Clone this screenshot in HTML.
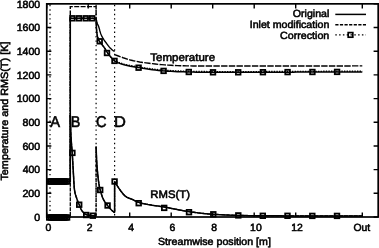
<!DOCTYPE html>
<html><head><meta charset="utf-8"><title>Streamwise temperature</title><style>
html,body{margin:0;padding:0;background:#fff;width:379px;height:248px;overflow:hidden}
svg{display:block}
text{font-family:"Liberation Sans",Arial,Helvetica,sans-serif;font-size:10.4px;fill:#000;stroke:#000;stroke-width:0.55px;text-rendering:geometricPrecision}
</style></head><body>
<svg width="379" height="248" viewBox="0 0 379 248">
<rect x="46.75" y="3.85" width="331.45" height="213.15" fill="none" stroke="#000" stroke-width="1.7"/>
<path d="M46.70,217.0v-4.6M46.70,3.85v4.6M88.20,217.0v-4.6M88.20,3.85v4.6M129.70,217.0v-4.6M129.70,3.85v4.6M171.20,217.0v-4.6M171.20,3.85v4.6M212.70,217.0v-4.6M212.70,3.85v4.6M254.20,217.0v-4.6M254.20,3.85v4.6M295.70,217.0v-4.6M295.70,3.85v4.6M362.30,217.0v-4.6M362.30,3.85v4.6M46.75,217.00h4.6M378.2,217.00h-4.6M46.75,193.32h4.6M378.2,193.32h-4.6M46.75,169.63h4.6M378.2,169.63h-4.6M46.75,145.95h4.6M378.2,145.95h-4.6M46.75,122.27h4.6M378.2,122.27h-4.6M46.75,98.58h4.6M378.2,98.58h-4.6M46.75,74.90h4.6M378.2,74.90h-4.6M46.75,51.22h4.6M378.2,51.22h-4.6M46.75,27.53h4.6M378.2,27.53h-4.6M46.75,3.85h4.6M378.2,3.85h-4.6" stroke="#000" stroke-width="1.4" fill="none"/>
<text x="45.56" y="231.40">0</text>
<text x="86.81" y="231.40">2</text>
<text x="128.34" y="231.40">4</text>
<text x="169.47" y="231.40">6</text>
<text x="211.21" y="231.40">8</text>
<text x="250.12" y="231.40">10</text>
<text x="291.28" y="231.40">12</text>
<text x="353.41" y="231.40">Out</text>
<text x="34.26" y="220.75" textLength="5.93" lengthAdjust="spacingAndGlyphs">0</text>
<text x="22.44" y="197.07" textLength="17.75" lengthAdjust="spacingAndGlyphs">200</text>
<text x="22.73" y="173.38" textLength="17.45" lengthAdjust="spacingAndGlyphs">400</text>
<text x="22.43" y="149.70" textLength="17.76" lengthAdjust="spacingAndGlyphs">600</text>
<text x="22.51" y="126.02" textLength="17.67" lengthAdjust="spacingAndGlyphs">800</text>
<text x="16.67" y="102.33" textLength="23.52" lengthAdjust="spacingAndGlyphs">1000</text>
<text x="16.67" y="78.65" textLength="23.52" lengthAdjust="spacingAndGlyphs">1200</text>
<text x="16.67" y="54.97" textLength="23.52" lengthAdjust="spacingAndGlyphs">1400</text>
<text x="16.67" y="31.28" textLength="23.52" lengthAdjust="spacingAndGlyphs">1600</text>
<text x="16.67" y="7.60" textLength="23.52" lengthAdjust="spacingAndGlyphs">1800</text>
<text x="157.99" y="245.40" textLength="112.89" lengthAdjust="spacingAndGlyphs">Streamwise position [m]</text>
<text transform="rotate(-90)" x="-180.57" y="8.00" textLength="138.96" lengthAdjust="spacingAndGlyphs">Temperature and RMS(T) [K]</text>
<line x1="50.0" y1="4.85" x2="50.0" y2="216.0" stroke="#000" stroke-width="1.2" stroke-dasharray="1.4 3.05"/>
<line x1="96.1" y1="4.85" x2="96.1" y2="216.0" stroke="#000" stroke-width="1.2" stroke-dasharray="1.4 3.05"/>
<line x1="114.6" y1="4.85" x2="114.6" y2="216.0" stroke="#000" stroke-width="1.2" stroke-dasharray="1.4 3.05"/>
<polyline points="46.75,181.50 70.30,181.50 70.30,18.30 96.10,18.30 96.41,28.16 96.73,31.49 97.04,34.02 97.35,36.02 97.67,37.54 97.98,38.51 98.29,39.27 98.61,39.89 98.92,40.43 99.24,40.90 99.55,41.37 99.86,41.85 100.18,42.30 100.49,42.73 100.80,43.13 101.12,43.52 101.43,43.90 101.74,44.27 102.06,44.65 102.37,45.04 102.68,45.45 103.00,45.87 103.31,46.29 103.63,46.72 103.94,47.16 104.25,47.60 104.57,48.05 104.88,48.52 105.19,48.99 105.51,49.49 105.82,50.02 106.13,50.56 106.45,51.11 106.76,51.65 107.07,52.16 107.39,52.63 107.70,53.08 108.02,53.52 108.33,53.94 108.64,54.36 108.96,54.76 109.27,55.16 109.58,55.55 109.90,55.93 110.21,56.31 110.52,56.68 110.84,57.04 111.15,57.40 111.46,57.76 111.78,58.11 112.09,58.45 112.41,58.79 112.72,59.13 113.03,59.46 113.35,59.78 113.66,60.09 113.97,60.40 114.29,60.70 114.60,61.00 117.74,62.66 120.87,63.90 124.01,64.81 127.14,65.56 130.28,66.18 133.41,66.77 136.55,67.35 139.68,67.88 142.82,68.36 145.95,68.82 149.09,69.25 152.23,69.66 155.36,70.06 158.50,70.43 161.63,70.75 164.77,70.98 167.90,71.17 171.04,71.34 174.17,71.50 177.31,71.64 180.44,71.77 183.58,71.87 186.72,71.96 189.85,72.02 192.99,72.08 196.12,72.13 199.26,72.18 202.39,72.23 205.53,72.26 208.66,72.29 211.80,72.30 214.93,72.30 218.07,72.30 221.21,72.30 224.34,72.30 227.48,72.30 230.61,72.30 233.75,72.30 236.88,72.30 240.02,72.30 243.15,72.30 246.29,72.30 249.42,72.30 252.56,72.30 255.69,72.29 258.83,72.29 261.97,72.28 265.10,72.27 268.24,72.25 271.37,72.24 274.51,72.22 277.64,72.21 280.78,72.19 283.91,72.18 287.05,72.16 290.18,72.14 293.32,72.13 296.46,72.11 299.59,72.10 302.73,72.09 305.86,72.08 309.00,72.07 312.13,72.06 315.27,72.05 318.40,72.04 321.54,72.03 324.67,72.01 327.81,72.00 330.95,71.99 334.08,71.98 337.22,71.97 340.35,71.96 343.49,71.95 346.62,71.95 349.76,71.94 352.89,71.93 356.03,71.92 359.16,71.91 362.30,71.90" fill="none" stroke="#000" stroke-width="1.5" stroke-linejoin="miter"/>
<polyline points="46.75,217.00 70.30,217.00" fill="none" stroke="#000" stroke-width="1.5" stroke-linejoin="bevel"/>
<polyline points="70.30,115.00 70.74,131.54 71.17,139.60 71.61,145.49 72.05,150.64 72.49,157.29 72.92,165.01 73.36,172.59 73.80,180.72 74.24,187.50 74.67,191.04 75.11,193.22 75.55,194.89 75.98,196.24 76.42,197.48 76.86,198.78 77.30,200.02 77.73,201.18 78.17,202.26 78.61,203.31 79.05,204.34 79.48,205.38 79.92,206.46 80.36,207.54 80.79,208.57 81.23,209.50 81.67,210.31 82.11,210.94 82.54,211.50 82.98,212.03 83.42,212.53 83.86,212.99 84.29,213.41 84.73,213.79 85.17,214.10 85.61,214.36 86.04,214.55 86.48,214.68 86.92,214.80 87.35,214.90 87.79,215.00 88.23,215.09 88.67,215.17 89.10,215.24 89.54,215.31 89.98,215.37 90.42,215.43 90.85,215.48 91.29,215.53 91.73,215.58 92.16,215.63 92.60,215.68 93.04,215.73 93.48,215.77 93.91,215.82 94.35,215.86 94.79,215.90 95.23,215.94 95.66,215.97 96.10,216.00" fill="none" stroke="#000" stroke-width="1.5" stroke-linejoin="bevel"/>
<polyline points="96.10,146.50 96.57,159.51 97.05,166.86 97.52,172.25 98.00,176.96 98.47,180.92 98.95,184.02 99.42,186.60 99.89,188.78 100.37,190.63 100.84,192.32 101.32,193.89 101.79,195.33 102.27,196.65 102.74,197.85 103.22,198.92 103.69,199.87 104.16,200.72 104.64,201.50 105.11,202.22 105.59,202.89 106.06,203.53 106.54,204.14 107.01,204.74 107.48,205.35 107.96,205.96 108.43,206.57 108.91,207.16 109.38,207.73 109.86,208.28 110.33,208.80 110.81,209.30 111.28,209.78 111.75,210.23 112.23,210.67 112.70,211.10 113.18,211.50 113.65,211.89 114.13,212.26 114.60,212.60 114.60,181.50 116.68,184.79 118.76,188.14 120.84,191.05 122.93,193.76 125.01,195.98 127.09,197.35 129.17,198.22 131.25,198.99 133.33,199.93 135.42,201.00 137.50,201.97 139.58,202.66 141.66,203.20 143.74,203.67 145.82,204.08 147.90,204.46 149.99,204.82 152.07,205.18 154.15,205.51 156.23,205.82 158.31,206.11 160.39,206.41 162.47,206.72 164.56,207.06 166.64,207.44 168.72,207.85 170.80,208.27 172.88,208.69 174.96,209.10 177.05,209.50 179.13,209.89 181.21,210.28 183.29,210.67 185.37,211.03 187.45,211.37 189.53,211.67 191.62,211.96 193.70,212.24 195.78,212.52 197.86,212.79 199.94,213.04 202.02,213.28 204.11,213.51 206.19,213.72 208.27,213.92 210.35,214.09 212.43,214.24 214.51,214.38 216.59,214.50 218.68,214.62 220.76,214.73 222.84,214.83 224.92,214.93 227.00,215.02 229.08,215.11 231.16,215.18 233.25,215.26 235.33,215.32 237.41,215.38 239.49,215.43 241.57,215.47 243.65,215.52 245.74,215.56 247.82,215.61 249.90,215.65 251.98,215.68 254.06,215.71 256.14,215.74 258.22,215.76 260.31,215.78 262.39,215.80 264.47,215.81 266.55,215.82 268.63,215.83 270.71,215.84 272.79,215.84 274.88,215.85 276.96,215.86 279.04,215.87 281.12,215.87 283.20,215.88 285.28,215.88 287.37,215.89 289.45,215.89 291.53,215.89 293.61,215.90 295.69,215.90 297.77,215.90 299.85,215.90 301.94,215.90 304.02,215.90 306.10,215.90 308.18,215.90 310.26,215.90 312.34,215.90 314.43,215.90 316.51,215.90 318.59,215.90 320.67,215.90 322.75,215.90 324.83,215.90 326.91,215.90 329.00,215.90 331.08,215.90 333.16,215.90 335.24,215.90 337.32,215.90 339.40,215.90 341.48,215.90 343.57,215.90 345.65,215.90 347.73,215.90 349.81,215.90 351.89,215.90 353.97,215.90 356.06,215.90 358.14,215.90 360.22,215.90 362.30,215.90" fill="none" stroke="#000" stroke-width="1.5" stroke-linejoin="bevel"/>
<polyline points="46.75,181.50 70.30,181.50 70.30,6.60 96.10,6.60 96.10,18.30" fill="none" stroke="#000" stroke-width="1.4" stroke-dasharray="5 1.4" stroke-dashoffset="2.45"/>
<polyline points="96.10,18.30 96.57,21.02 97.05,22.82 97.52,24.06 98.00,25.08 98.47,26.13 98.95,27.45 99.42,29.16 99.89,30.98 100.37,32.62 100.84,33.90 101.32,35.04 101.79,36.08 102.27,37.02 102.74,37.90 103.22,38.71 103.69,39.47 104.16,40.19 104.64,40.87 105.11,41.52 105.59,42.16 106.06,42.79 106.54,43.41 107.01,44.05 107.48,44.68 107.96,45.31 108.43,45.93 108.91,46.53 109.38,47.10 109.86,47.64 110.33,48.13 110.81,48.59 111.28,49.03 111.75,49.45 112.23,49.85 112.70,50.23 113.18,50.59 113.65,50.92 114.13,51.22 114.60,51.50" fill="none" stroke="#000" stroke-width="1.4"/>
<polyline points="114.60,54.60 117.74,55.77 120.87,56.92 124.01,58.04 127.14,59.05 130.28,59.96 133.41,60.72 136.55,61.38 139.68,61.95 142.82,62.44 145.95,62.89 149.09,63.29 152.23,63.66 155.36,64.02 158.50,64.35 161.63,64.64 164.77,64.89 167.90,65.11 171.04,65.31 174.17,65.47 177.31,65.59 180.44,65.71 183.58,65.80 186.72,65.87 189.85,65.91 192.99,65.93 196.12,65.95 199.26,65.97 202.39,65.98 205.53,65.99 208.66,66.00 211.80,66.00 214.93,66.00 218.07,66.00 221.21,66.00 224.34,66.00 227.48,66.00 230.61,66.00 233.75,66.00 236.88,66.00 240.02,66.00 243.15,66.00 246.29,66.00 249.42,66.00 252.56,66.00 255.69,66.00 258.83,66.00 261.97,66.00 265.10,66.00 268.24,66.00 271.37,66.00 274.51,66.00 277.64,66.00 280.78,66.00 283.91,66.00 287.05,66.00 290.18,66.00 293.32,66.00 296.46,66.00 299.59,66.00 302.73,66.00 305.86,66.00 309.00,66.00 312.13,65.99 315.27,65.99 318.40,65.99 321.54,65.98 324.67,65.98 327.81,65.98 330.95,65.97 334.08,65.96 337.22,65.96 340.35,65.95 343.49,65.94 346.62,65.94 349.76,65.93 352.89,65.92 356.03,65.92 359.16,65.91 362.30,65.90" fill="none" stroke="#000" stroke-width="1.4" stroke-dasharray="6.4 1.3"/>
<polyline points="46.75,217.00 70.30,217.00 70.30,115.00 70.74,131.54 71.17,139.60 71.61,145.49 72.05,150.64 72.49,157.29 72.92,165.01 73.36,172.59 73.80,180.72 74.24,187.50 74.67,191.04 75.11,193.22 75.55,194.89 75.98,196.24 76.42,197.48 76.86,198.78 77.30,200.02 77.73,201.18 78.17,202.26 78.61,203.31 79.05,204.34 79.48,205.38 79.92,206.46 80.36,207.54 80.79,208.57 81.23,209.50 81.67,210.31 82.11,210.94 82.54,211.50 82.98,212.03 83.42,212.53 83.86,212.99 84.29,213.41 84.73,213.79 85.17,214.10 85.61,214.36 86.04,214.55 86.48,214.68 86.92,214.80 87.35,214.90 87.79,215.00 88.23,215.09 88.67,215.17 89.10,215.24 89.54,215.31 89.98,215.37 90.42,215.43 90.85,215.48 91.29,215.53 91.73,215.58 92.16,215.63 92.60,215.68 93.04,215.73 93.48,215.77 93.91,215.82 94.35,215.86 94.79,215.90 95.23,215.94 95.66,215.97 96.10,216.00 96.10,217.00 96.10,146.50 96.57,159.51 97.05,166.86 97.52,172.25 98.00,176.96 98.47,180.92 98.95,184.02 99.42,186.60 99.89,188.78 100.37,190.63 100.84,192.32 101.32,193.89 101.79,195.33 102.27,196.65 102.74,197.85 103.22,198.92 103.69,199.87 104.16,200.72 104.64,201.50 105.11,202.22 105.59,202.89 106.06,203.53 106.54,204.14 107.01,204.74 107.48,205.35 107.96,205.96 108.43,206.57 108.91,207.16 109.38,207.73 109.86,208.28 110.33,208.80 110.81,209.30 111.28,209.78 111.75,210.23 112.23,210.67 112.70,211.10 113.18,211.50 113.65,211.89 114.13,212.26 114.60,212.60 114.60,181.50 116.68,184.79 118.76,188.14 120.84,191.05 122.93,193.76 125.01,195.98 127.09,197.35 129.17,198.22 131.25,198.99 133.33,199.93 135.42,201.00 137.50,201.97 139.58,202.66 141.66,203.20 143.74,203.67 145.82,204.08 147.90,204.46 149.99,204.82 152.07,205.18 154.15,205.51 156.23,205.82 158.31,206.11 160.39,206.41 162.47,206.72 164.56,207.06 166.64,207.44 168.72,207.85 170.80,208.27 172.88,208.69 174.96,209.10 177.05,209.50 179.13,209.89 181.21,210.28 183.29,210.67 185.37,211.03 187.45,211.37 189.53,211.67 191.62,211.96 193.70,212.24 195.78,212.52 197.86,212.79 199.94,213.04 202.02,213.28 204.11,213.51 206.19,213.72 208.27,213.92 210.35,214.09 212.43,214.24 214.51,214.38 216.59,214.50 218.68,214.62 220.76,214.73 222.84,214.83 224.92,214.93 227.00,215.02 229.08,215.11 231.16,215.18 233.25,215.26 235.33,215.32 237.41,215.38 239.49,215.43 241.57,215.47 243.65,215.52 245.74,215.56 247.82,215.61 249.90,215.65 251.98,215.68 254.06,215.71 256.14,215.74 258.22,215.76 260.31,215.78 262.39,215.80 264.47,215.81 266.55,215.82 268.63,215.83 270.71,215.84 272.79,215.84 274.88,215.85 276.96,215.86 279.04,215.87 281.12,215.87 283.20,215.88 285.28,215.88 287.37,215.89 289.45,215.89 291.53,215.89 293.61,215.90 295.69,215.90 297.77,215.90 299.85,215.90 301.94,215.90 304.02,215.90 306.10,215.90 308.18,215.90 310.26,215.90 312.34,215.90 314.43,215.90 316.51,215.90 318.59,215.90 320.67,215.90 322.75,215.90 324.83,215.90 326.91,215.90 329.00,215.90 331.08,215.90 333.16,215.90 335.24,215.90 337.32,215.90 339.40,215.90 341.48,215.90 343.57,215.90 345.65,215.90 347.73,215.90 349.81,215.90 351.89,215.90 353.97,215.90 356.06,215.90 358.14,215.90 360.22,215.90 362.30,215.90" fill="none" stroke="#000" stroke-width="1.3" stroke-dasharray="4 0.9" stroke-linejoin="bevel"/>
<polyline points="46.75,181.50 70.30,181.50 70.30,18.30 96.10,18.30 96.41,28.16 96.73,31.49 97.04,34.02 97.35,36.02 97.67,37.54 97.98,38.51 98.29,39.27 98.61,39.89 98.92,40.43 99.24,40.90 99.55,41.37 99.86,41.85 100.18,42.30 100.49,42.73 100.80,43.13 101.12,43.52 101.43,43.90 101.74,44.27 102.06,44.65 102.37,45.04 102.68,45.45 103.00,45.87 103.31,46.29 103.63,46.72 103.94,47.16 104.25,47.60 104.57,48.05 104.88,48.52 105.19,48.99 105.51,49.49 105.82,50.02 106.13,50.56 106.45,51.11 106.76,51.65 107.07,52.16 107.39,52.63 107.70,53.08 108.02,53.52 108.33,53.94 108.64,54.36 108.96,54.76 109.27,55.16 109.58,55.55 109.90,55.93 110.21,56.31 110.52,56.68 110.84,57.04 111.15,57.40 111.46,57.76 111.78,58.11 112.09,58.45 112.41,58.79 112.72,59.13 113.03,59.46 113.35,59.78 113.66,60.09 113.97,60.40 114.29,60.70 114.60,61.00 117.74,61.96 120.87,63.20 124.01,64.11 127.14,64.86 130.28,65.48 133.41,66.07 136.55,66.65 139.68,67.18 142.82,67.66 145.95,68.12 149.09,68.55 152.23,68.96 155.36,69.36 158.50,69.73 161.63,70.05 164.77,70.28 167.90,70.47 171.04,70.64 174.17,70.80 177.31,70.94 180.44,71.07 183.58,71.17 186.72,71.26 189.85,71.32 192.99,71.38 196.12,71.43 199.26,71.48 202.39,71.53 205.53,71.56 208.66,71.59 211.80,71.60 214.93,71.60 218.07,71.60 221.21,71.60 224.34,71.60 227.48,71.60 230.61,71.60 233.75,71.60 236.88,71.60 240.02,71.60 243.15,71.60 246.29,71.60 249.42,71.60 252.56,71.60 255.69,71.59 258.83,71.59 261.97,71.58 265.10,71.57 268.24,71.55 271.37,71.54 274.51,71.52 277.64,71.51 280.78,71.49 283.91,71.48 287.05,71.46 290.18,71.44 293.32,71.43 296.46,71.41 299.59,71.40 302.73,71.39 305.86,71.38 309.00,71.37 312.13,71.36 315.27,71.35 318.40,71.34 321.54,71.33 324.67,71.31 327.81,71.30 330.95,71.29 334.08,71.28 337.22,71.27 340.35,71.26 343.49,71.25 346.62,71.25 349.76,71.24 352.89,71.23 356.03,71.22 359.16,71.21 362.30,71.20" fill="none" stroke="#000" stroke-width="1.4" stroke-dasharray="1.4 1.2"/>
<g fill="none" stroke="#000" stroke-width="1.8"><rect x="46.90" y="179.20" width="4.6" height="4.6"/><rect x="46.90" y="215.20" width="4.6" height="4.6"/><rect x="48.53" y="179.20" width="4.6" height="4.6"/><rect x="48.53" y="215.20" width="4.6" height="4.6"/><rect x="50.15" y="179.20" width="4.6" height="4.6"/><rect x="50.15" y="215.20" width="4.6" height="4.6"/><rect x="51.78" y="179.20" width="4.6" height="4.6"/><rect x="51.78" y="215.20" width="4.6" height="4.6"/><rect x="53.41" y="179.20" width="4.6" height="4.6"/><rect x="53.41" y="215.20" width="4.6" height="4.6"/><rect x="55.04" y="179.20" width="4.6" height="4.6"/><rect x="55.04" y="215.20" width="4.6" height="4.6"/><rect x="56.66" y="179.20" width="4.6" height="4.6"/><rect x="56.66" y="215.20" width="4.6" height="4.6"/><rect x="58.29" y="179.20" width="4.6" height="4.6"/><rect x="58.29" y="215.20" width="4.6" height="4.6"/><rect x="59.92" y="179.20" width="4.6" height="4.6"/><rect x="59.92" y="215.20" width="4.6" height="4.6"/><rect x="61.55" y="179.20" width="4.6" height="4.6"/><rect x="61.55" y="215.20" width="4.6" height="4.6"/><rect x="63.17" y="179.20" width="4.6" height="4.6"/><rect x="63.17" y="215.20" width="4.6" height="4.6"/><rect x="64.80" y="179.20" width="4.6" height="4.6"/><rect x="64.80" y="215.20" width="4.6" height="4.6"/><rect x="70.10" y="16.00" width="4.6" height="4.6"/><rect x="76.60" y="16.00" width="4.6" height="4.6"/><rect x="83.40" y="16.00" width="4.6" height="4.6"/><rect x="89.90" y="16.00" width="4.6" height="4.6"/><rect x="97.40" y="39.00" width="4.6" height="4.6"/><rect x="104.70" y="50.70" width="4.6" height="4.6"/><rect x="112.20" y="58.60" width="4.6" height="4.6"/><rect x="136.30" y="65.40" width="4.6" height="4.6"/><rect x="161.30" y="68.60" width="4.6" height="4.6"/><rect x="186.50" y="69.70" width="4.6" height="4.6"/><rect x="210.70" y="70.00" width="4.6" height="4.6"/><rect x="235.90" y="70.00" width="4.6" height="4.6"/><rect x="260.60" y="69.90" width="4.6" height="4.6"/><rect x="285.30" y="69.80" width="4.6" height="4.6"/><rect x="310.10" y="69.70" width="4.6" height="4.6"/><rect x="334.80" y="69.60" width="4.6" height="4.6"/><rect x="70.10" y="150.60" width="4.6" height="4.6"/><rect x="76.90" y="202.40" width="4.6" height="4.6"/><rect x="83.90" y="212.70" width="4.6" height="4.6"/><rect x="90.50" y="213.40" width="4.6" height="4.6"/><rect x="97.90" y="187.70" width="4.6" height="4.6"/><rect x="105.30" y="203.20" width="4.6" height="4.6"/><rect x="112.30" y="179.20" width="4.6" height="4.6"/><rect x="136.40" y="200.90" width="4.6" height="4.6"/><rect x="161.90" y="205.60" width="4.6" height="4.6"/><rect x="186.70" y="209.90" width="4.6" height="4.6"/><rect x="211.00" y="212.00" width="4.6" height="4.6"/><rect x="236.00" y="213.10" width="4.6" height="4.6"/><rect x="260.50" y="213.50" width="4.6" height="4.6"/><rect x="285.20" y="213.50" width="4.6" height="4.6"/><rect x="310.00" y="213.60" width="4.6" height="4.6"/><rect x="334.70" y="213.60" width="4.6" height="4.6"/></g>
<text x="50.25" y="127.00" style="font-size:15.6px" textLength="9.81" lengthAdjust="spacingAndGlyphs">A</text>
<text x="70.70" y="127.30" style="font-size:15.6px" textLength="9.59" lengthAdjust="spacingAndGlyphs">B</text>
<text x="96.03" y="127.00" style="font-size:15.6px" textLength="10.55" lengthAdjust="spacingAndGlyphs">C</text>
<text x="113.92" y="127.00" style="font-size:15.6px" textLength="11.89" lengthAdjust="spacingAndGlyphs">D</text>
<text x="150.32" y="61.00" style="font-size:10.9px" textLength="64.81" lengthAdjust="spacingAndGlyphs">Temperature</text>
<text x="150.34" y="197.90" style="font-size:10.9px" textLength="39.68" lengthAdjust="spacingAndGlyphs">RMS(T)</text>
<text x="292.77" y="17.10" textLength="36.56" lengthAdjust="spacingAndGlyphs">Original</text>
<text x="249.70" y="28.10" textLength="79.62" lengthAdjust="spacingAndGlyphs">Inlet modification</text>
<text x="280.13" y="38.50" textLength="49.18" lengthAdjust="spacingAndGlyphs">Correction</text>
<line x1="335.3" y1="14.4" x2="366" y2="14.4" stroke="#000" stroke-width="1.5"/>
<line x1="335.3" y1="24.8" x2="366" y2="24.8" stroke="#000" stroke-width="1.4" stroke-dasharray="3.2 1.4"/>
<line x1="335.3" y1="34.9" x2="366" y2="34.9" stroke="#000" stroke-width="1.3" stroke-dasharray="1.5 2.3"/>
<rect x="348.2" y="32.6" width="4.6" height="4.6" fill="none" stroke="#000" stroke-width="1.7"/>
</svg>
</body></html>
